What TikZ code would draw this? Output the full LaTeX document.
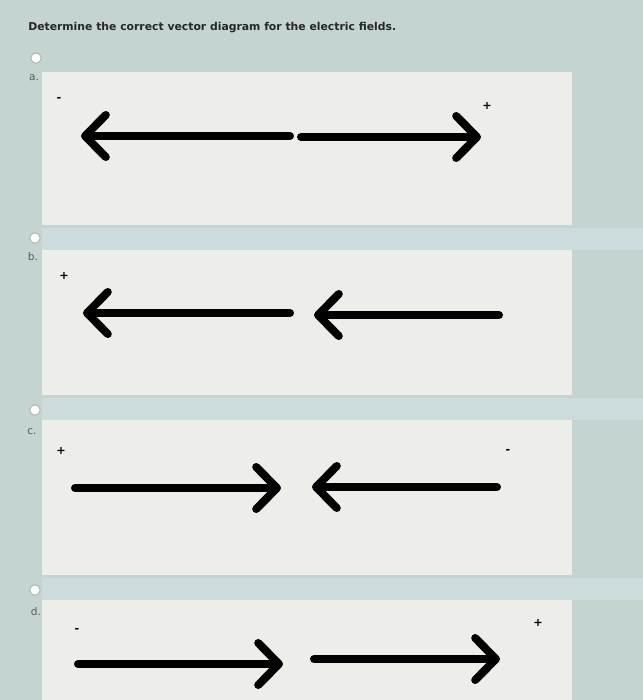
\documentclass[tikz,border=0pt]{standalone}
\usepackage{fontspec}
\setmainfont{DejaVu Sans}
\usetikzlibrary{arrows.meta}

\definecolor{screen}{RGB}{196,213,209}
\definecolor{band}{RGB}{204,219,219}
\definecolor{paper}{RGB}{237,237,234}

\begin{document}
\begin{tikzpicture}[
  x=0.025cm, y=-0.025cm,
  panel/.style={fill=paper, draw=none},
  radio/.style={circle, draw=gray!60, fill=white, line width=0.7pt, inner sep=0pt, minimum size=0.26cm},
  letter/.style={font=\fontsize{7.5}{8}\selectfont, text=gray!70!black, inner sep=0pt},
  charge/.style={font=\bfseries\fontsize{8}{8}\selectfont, inner sep=0pt},
  field/.style={-{Straight Barb[length=0.52cm, width=1.05cm, round]}, line width=0.2cm, line cap=round}
]
% screen and answer panels
\fill[screen] (0,0) rectangle (643,700);
\fill[band] (42,228) rectangle (643,250);
\fill[band] (42,398) rectangle (643,420);
\fill[band] (42,578) rectangle (643,600);
\fill[panel] (42,72) rectangle (572,225);
\fill[panel] (42,250) rectangle (572,395);
\fill[panel] (42,420) rectangle (572,575);
\fill[panel] (42,600) rectangle (572,700);

\node[anchor=west, font=\bfseries\fontsize{7.7}{9}\selectfont, text=black!85, inner sep=0pt] (title) at (28,28)
  {Determine the correct vector diagram for the electric fields.};

% a.
\node[radio] (ra) at (36,58) {};
\node[letter] (la) at (34,78) {a.};
\node[charge] (qa1) at (59,99) {-};
\node[charge] (qa2) at (487,106) {+};
\coordinate (a0) at (290,136);
\coordinate (a1) at (81,136);
\coordinate (a2) at (301,137);
\coordinate (a3) at (481,137);
\draw[field] (a0) -- (a1);
\draw[field] (a2) -- (a3);

% b.
\node[radio] (rb) at (35,238) {};
\node[letter] (lb) at (33,257) {b.};
\node[charge] (qb) at (64,276) {+};
\coordinate (b0) at (290,313);
\coordinate (b1) at (83,313);
\coordinate (b2) at (499,315);
\coordinate (b3) at (314,315);
\draw[field] (b0) -- (b1);
\draw[field] (b2) -- (b3);

% c.
\node[radio] (rc) at (35,410) {};
\node[letter] (lc) at (32,432) {c.};
\node[charge] (qc1) at (61,451) {+};
\node[charge] (qc2) at (508,451) {-};
\coordinate (c0) at (75,488);
\coordinate (c1) at (281,488);
\coordinate (c2) at (497,487);
\coordinate (c3) at (312,487);
\draw[field] (c0) -- (c1);
\draw[field] (c2) -- (c3);

% d.
\node[radio] (rd) at (35,590) {};
\node[letter] (ld) at (36,612) {d.};
\node[charge] (qd1) at (77,630) {-};
\node[charge] (qd2) at (538,623) {+};
\coordinate (d0) at (78,664);
\coordinate (d1) at (283,664);
\coordinate (d2) at (314,659);
\coordinate (d3) at (500,659);
\draw[field] (d0) -- (d1);
\draw[field] (d2) -- (d3);
\end{tikzpicture}
\end{document}
